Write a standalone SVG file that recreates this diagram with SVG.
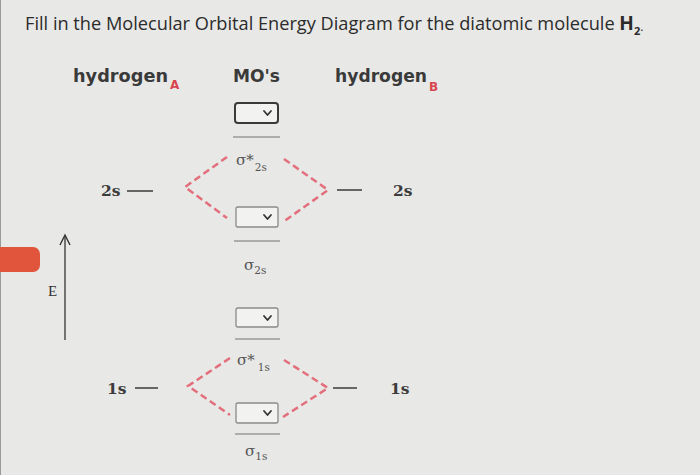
<svg xmlns="http://www.w3.org/2000/svg" width="700" height="475" viewBox="0 0 700 475">
<defs>
<style>
.title{font-family:"Open Sans","Noto Sans",sans-serif;font-size:18.2px;fill:#2b2b2b}
.hdr{font-family:"DejaVu Sans","Noto Sans",sans-serif;font-weight:bold;font-size:17px;fill:#3a3a3a}
.sub{font-family:"DejaVu Sans",sans-serif;font-weight:bold;font-size:12px;fill:#d9434f}
.ao{font-family:"DejaVu Serif",serif;font-weight:bold;font-size:15.5px;fill:#3c3c3c}
.mo{font-family:"DejaVu Serif",serif;font-size:15px;fill:#555}
.mos{font-family:"DejaVu Serif",serif;font-size:10.5px;fill:#555}
.box{fill:#f2f2f1;stroke:#8a8a8a;stroke-width:1.3}
.chev{fill:none;stroke:#333;stroke-width:1.8;stroke-linecap:round;stroke-linejoin:round}
.lvl{stroke:#9a9a9a;stroke-width:1.5}
.aol{stroke:#444;stroke-width:1.6}
.dash{fill:none;stroke:#e26f7b;stroke-width:2.5;stroke-dasharray:7 4}
</style>
</defs>
<rect width="700" height="475" fill="#e8e8e6"/>
<line x1="0.5" y1="0" x2="0.5" y2="475" stroke="#9a9a9a" stroke-width="1"/>

<text class="title" x="25" y="30">Fill in the Molecular Orbital Energy Diagram for the diatomic molecule <tspan font-weight="bold" font-size="19">H</tspan><tspan dy="5" font-weight="bold" font-size="11">2</tspan><tspan dy="-4" font-size="12">.</tspan></text>

<g id="headers">
<text class="hdr" x="73" y="82" textLength="95" lengthAdjust="spacingAndGlyphs">hydrogen</text>
<text class="sub" x="170" y="89">A</text>
<text class="hdr" x="233" y="82" textLength="47" lengthAdjust="spacingAndGlyphs">MO's</text>
<text class="hdr" x="335" y="82" textLength="92" lengthAdjust="spacingAndGlyphs">hydrogen</text>
<text class="sub" x="429" y="91">B</text>
</g>

<g id="energy-axis">
<rect x="-8" y="247" width="48" height="25" rx="7" fill="#e0553b"/>
<line x1="65" y1="340" x2="65" y2="236" stroke="#333" stroke-width="1.3"/>
<path d="M60,245 L65,235 L70,245" fill="none" stroke="#333" stroke-width="1.4"/>
<text x="48" y="296" font-family="Liberation Serif,serif" font-size="15" fill="#333">E</text>
</g>

<g id="connectors">
<polyline class="dash" points="227,157 185,187 227,218"/>
<polyline class="dash" points="284,159 328,190 283,222"/>
<polyline class="dash" points="230,358 188,386 230,415"/>
<polyline class="dash" points="284,360 328,388 283,417"/>
</g>

<g id="ao-2s-A">
<text class="ao" x="101" y="196">2s</text>
<line class="aol" x1="127" y1="191" x2="153" y2="191"/>
</g>
<g id="ao-2s-B">
<line class="aol" x1="337" y1="190" x2="362" y2="190"/>
<text class="ao" x="393" y="196">2s</text>
</g>
<g id="ao-1s-A">
<text class="ao" x="107" y="394">1s</text>
<line class="aol" x1="135" y1="388" x2="158" y2="388"/>
</g>
<g id="ao-1s-B">
<line class="aol" x1="333" y1="388" x2="357" y2="388"/>
<text class="ao" x="390" y="394">1s</text>
</g>

<g id="mo-sigma-star-2s">
<rect x="235" y="103" width="43" height="20" rx="3" fill="#f2f2f1" stroke="#3a3a3a" stroke-width="2"/>
<path class="chev" d="M264,111 L267.5,115 L271,111"/>
<line class="lvl" x1="233" y1="137" x2="280" y2="137"/>
<text class="mo" x="236" y="165">σ*<tspan class="mos" dx="1" dy="6">2s</tspan></text>
</g>
<g id="mo-sigma-2s">
<rect class="box" x="236" y="207" width="42" height="20" rx="2"/>
<path class="chev" d="M264,215 L267.5,219 L271,215"/>
<line class="lvl" x1="234" y1="241" x2="280" y2="241"/>
<text class="mo" x="244" y="270">σ<tspan class="mos" dy="4">2s</tspan></text>
</g>
<g id="mo-sigma-star-1s">
<rect class="box" x="236" y="308" width="42" height="19" rx="2"/>
<path class="chev" d="M264,316 L267.5,320 L271,316"/>
<line class="lvl" x1="235" y1="339" x2="280" y2="339"/>
<text class="mo" x="237" y="365">σ*<tspan class="mos" dx="3" dy="6">1s</tspan></text>
</g>
<g id="mo-sigma-1s">
<rect class="box" x="236" y="403" width="42" height="20" rx="2"/>
<path class="chev" d="M264,411 L267.5,415 L271,411"/>
<line class="lvl" x1="235" y1="434" x2="280" y2="434"/>
<text class="mo" x="245" y="456">σ<tspan class="mos" dy="4">1s</tspan></text>
</g>
</svg>
